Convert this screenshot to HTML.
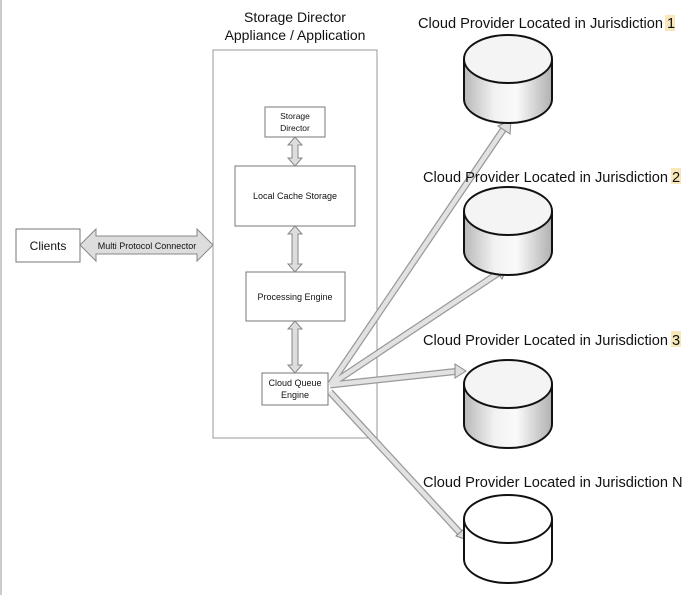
<!DOCTYPE html>
<html><head><style>
body{margin:0;background:#fff;}
svg text{font-family:"Liberation Sans",sans-serif;fill:#111;}
</style></head><body>
<svg width="696" height="595" viewBox="0 0 696 595" xmlns="http://www.w3.org/2000/svg">
<defs>
<linearGradient id="cg" x1="0" x2="1" y1="0" y2="0">
<stop offset="0" stop-color="#b8b8b8"/><stop offset="0.35" stop-color="#f2f2f2"/><stop offset="0.6" stop-color="#fafafa"/><stop offset="1" stop-color="#b0b0b0"/>
</linearGradient>
<g id="cyl">
<path d="M0,24 L0,64 A44,24 0 0 0 88,64 L88,24" fill="url(#cg)" stroke="#111" stroke-width="2"/>
<ellipse cx="44" cy="24" rx="44" ry="24" fill="#f4f4f4" stroke="#111" stroke-width="2"/>
</g>
</defs>
<rect x="0" y="0" width="2" height="595" fill="#ccc"/>
<text x="295" y="22" font-size="14" text-anchor="middle">Storage Director</text>
<text x="295" y="40" font-size="14" text-anchor="middle">Appliance / Application</text>
<rect x="213" y="50" width="164" height="388" fill="none" stroke="#999" stroke-width="1"/>
<rect x="16" y="229" width="64" height="33" fill="#fff" stroke="#777"/>
<text x="48" y="250" font-size="12" text-anchor="middle">Clients</text>
<polygon points="80,245 96,229 96,236 197,236 197,229 213,245 197,261 197,254 96,254 96,261" fill="#ddd" stroke="#888"/>
<text x="147" y="249" font-size="9" text-anchor="middle">Multi Protocol Connector</text>
<rect x="265" y="107" width="60" height="30" fill="#fff" stroke="#777"/>
<text x="295" y="119" font-size="8.5" text-anchor="middle">Storage</text>
<text x="295" y="131" font-size="8.5" text-anchor="middle">Director</text>
<rect x="235" y="166" width="120" height="60" fill="#fff" stroke="#777"/>
<text x="295" y="199" font-size="9" text-anchor="middle">Local Cache Storage</text>
<rect x="246" y="272" width="99" height="49" fill="#fff" stroke="#777"/>
<text x="295" y="300" font-size="9" text-anchor="middle">Processing Engine</text>
<rect x="262" y="373" width="66" height="32" fill="#fff" stroke="#777"/>
<text x="295" y="386" font-size="9" text-anchor="middle">Cloud Queue</text>
<text x="295" y="398" font-size="9" text-anchor="middle">Engine</text>
<g fill="#ddd" stroke="#888">
<polygon points="295,137 302,145 298,145 298,158 302,158 295,166 288,158 292,158 292,145 288,145"/>
<polygon points="295,226 302,234 298,234 298,264 302,264 295,272 288,264 292,264 292,234 288,234"/>
<polygon points="295,321 302,329 298,329 298,365 302,365 295,373 288,365 292,365 292,329 288,329"/>
</g>
<g stroke="#999" stroke-width="7" stroke-linecap="butt">
<line x1="330" y1="385" x2="505" y2="127" />
<line x1="330" y1="385" x2="500" y2="272" />
<line x1="330" y1="385" x2="460" y2="371" />
<line x1="330" y1="392" x2="462" y2="535" />
</g>
<g stroke="#e2e2e2" stroke-width="4.5">
<line x1="330" y1="385" x2="505" y2="127" />
<line x1="330" y1="385" x2="500" y2="272" />
<line x1="330" y1="385" x2="460" y2="371" />
<line x1="330" y1="392" x2="462" y2="535" />
</g>
<g fill="#ddd" stroke="#888">
<polygon points="511,120 498,126 510,134"/>
<polygon points="507,268 494,268 502,279"/>
<polygon points="466,371 455,364 455,378"/>
<polygon points="467,540 456,536 465,528"/>
</g>
<rect x="665" y="15" width="10" height="16" fill="#f3d98a" opacity="0.6"/>
<rect x="671" y="168" width="10" height="16" fill="#f3d98a" opacity="0.6"/>
<rect x="671" y="331" width="10" height="16" fill="#f3d98a" opacity="0.6"/>
<text x="418" y="28" font-size="14.6">Cloud Provider Located in Jurisdiction 1</text>
<text x="423" y="182" font-size="14.6">Cloud Provider Located in Jurisdiction 2</text>
<text x="423" y="345" font-size="14.6">Cloud Provider Located in Jurisdiction 3</text>
<text x="423" y="487" font-size="14.6">Cloud Provider Located in Jurisdiction N</text>
<use href="#cyl" x="464" y="35"/>
<use href="#cyl" x="464" y="187"/>
<use href="#cyl" x="464" y="360"/>
<path d="M464,519 L464,559 A44,24 0 0 0 552,559 L552,519" fill="#fff" stroke="#111" stroke-width="2"/>
<ellipse cx="508" cy="519" rx="44" ry="24" fill="#fff" stroke="#111" stroke-width="2"/>
</svg>
</body></html>
